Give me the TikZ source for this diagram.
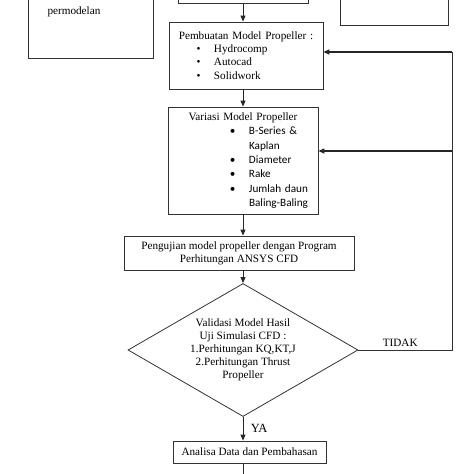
\documentclass[tikz,border=0pt]{standalone}
\usepackage{fontspec}
\setmainfont{Liberation Serif}
\newfontfamily\calibri{Carlito}
\usetikzlibrary{arrows.meta, shapes.geometric, positioning, calc}

% bullet item: indent to text start, bullet sits before it
\newcommand{\bitem}[2]{\makebox[#1][r]{\textbullet\hspace{13.5pt}}#2}
\newcommand{\bnext}[2]{\hspace*{#1}#2}

\begin{document}
\begin{tikzpicture}[x=1pt, y=-1pt,
  box/.style={draw=black!80, line width=0.8pt, inner sep=0pt},
  arr/.style={-{Triangle[length=6pt,width=5pt]}, draw=black!85, line width=0.9pt},
  font=\fontsize{11.2}{13.3}\selectfont]
  \useasboundingbox (0,0) rectangle (474,474);

  % boxes cut off at the top
  \node[box, minimum width=125pt, minimum height=110pt] (studi) at (90.5,3) {};
  \node[anchor=base west] at (44,14) {permodelan};
  \node[box, minimum width=130pt, minimum height=50pt] (data) at (243,-22) {};
  \node[box, minimum width=108pt, minimum height=70pt] (literatur) at (394,-10) {};

  \node[box, minimum width=154pt, minimum height=67pt, text width=146pt, align=left] (pembuatan) at (246,55.5)
    {\makebox[146pt]{Pembuatan Model Propeller :}\\
     \bitem{41pt}{Hydrocomp}\\
     \bitem{41pt}{Autocad}\\
     \bitem{41pt}{Solidwork}};

  \node[box, minimum width=150pt, minimum height=107pt, text width=142pt, align=left,
        font=\fontsize{11.2}{14.3}\selectfont] (variasi) at (243,160.5)
    {\makebox[142pt]{Variasi Model Propeller}\\
     {\calibri\bitem{77pt}{B-Series \&}}\\
     {\calibri\bnext{77pt}{Kaplan}}\\
     {\calibri\bitem{77pt}{Diameter}}\\
     {\calibri\bitem{77pt}{Rake}}\\
     {\calibri\bitem{77pt}{Jumlah daun}}\\
     {\calibri\bnext{77pt}{Baling-Baling}}};

  \node[box, minimum width=230pt, minimum height=34pt, align=center] (pengujian) at (239,253)
    {Pengujian model propeller dengan Program\\ Perhitungan ANSYS CFD};

  \node[draw=black!80, line width=0.8pt, diamond, aspect=1.73, minimum width=230pt, minimum height=133pt,
        inner sep=0pt, align=center, font=\fontsize{11.2}{13}\selectfont] (validasi) at (243,350)
    {Validasi Model Hasil\\ Uji Simulasi CFD :\\ 1.Perhitungan KQ,KT,J\\ 2.Perhitungan Thrust\\ Propeller};

  \node[box, minimum width=153pt, minimum height=22pt] (analisa) at (249.5,452) {Analisa Data dan Pembahasan};

  \coordinate (pojok) at (452,350);
  \coordinate (balik1) at (452,52);
  \coordinate (balik2) at (452,151);
  \coordinate (akhir) at (243,480);

  \draw[arr] (data.south) -- (data.south |- pembuatan.north);
  \draw[arr] (variasi.north |- pembuatan.south) -- (variasi.north);
  \draw[arr] (variasi.south) -- (variasi.south |- pengujian.north);
  \draw[arr] (variasi.south |- pengujian.south) -- (validasi.north);
  \draw[arr] (validasi.south) -- node[right, xshift=4pt, font=\fontsize{12.5}{14}\selectfont] {YA}
    (validasi.south |- analisa.north);
  \draw[draw=black!80, line width=0.8pt] (validasi.south |- analisa.south) -- (akhir);

  % TIDAK loop back
  \draw[draw=black!80, line width=0.8pt] (validasi.east) -- node[above, xshift=-5pt] {TIDAK} (pojok) -- (balik1);
  \draw[arr, line width=1.6pt] (balik1) -- (balik1 -| pembuatan.east);
  \draw[arr, line width=1.6pt] (balik2) -- (balik2 -| variasi.east);
\end{tikzpicture}
\end{document}
